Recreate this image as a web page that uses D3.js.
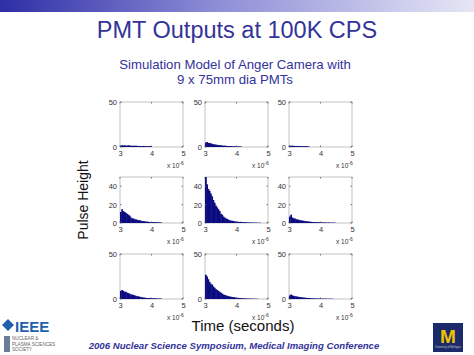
<!DOCTYPE html>
<html><head><meta charset="utf-8">
<script src="https://cdn.jsdelivr.net/npm/d3@7"></script>
<style>body{margin:0;background:#fff}svg{display:block}</style>
</head><body>
<svg id="c" width="474" height="355"></svg>
<script>
// ---- data ----
const binStart = 3.0;      // x 10^-6 s
const binWidth = 0.04;
const xTicks = [3, 4, 5];
const yTicksRow1 = [0, 50];
const yTicksRow2 = [0, 20, 40];
const yTicksRow3 = [0, 50];
const p11 = [1.5,2,1.5,2,1.5,1.5,2,1.5,1.5,1.2,1.5,1.2,1.5,1.2,1,1.2,1,1,1.2,1,0.8,1,0.8,1,0.8];
const p12 = [5,5.5,4.5,4.5,4,3.5,3,3,2.5,2.5,2,2,2,1.5,1.5,1.5,1.2,1.2,1,1,1,0.8,0.8,0.8,0.7,0.7,0.6,0.6,0.5];
const p13 = [1.5,1.2,1.5,1.2,1.2,1,1.2,1,1,1,1,0.8,1,0.8,0.8,0.6];
const p21 = [12,15,13,12,11,10,9,8,6,5,5,4,4,3.5,3,3,2.5,2,2,1.8,1.5,1.5,1.2,1,1,1,0.8,1,0.8,0.7,0.8,0.5,0.6];
const p22 = [50,42,37,35,32,29,25,22,19,17,15,13,10,9,7,6,5,4.5,3.5,3,2.5,2.5,2,1.8,1.5,1.5,1.2,1,1.3,0.8,1,0.7,0.8,0.6,0.5,0.7,0.4,0.5,0.4,0.3,0.4,0.3,0.2,0.3];
const p23 = [7,9,6,5,5,4,4,3.5,3,3,2.5,2.5,2,2,1.8,1.5,1.5,1.2,1,1,1,0.8,1,0.7,0.8,0.6,0.7,0.5,0.6,0.5,0.4,0.5,0.4,0.3,0.4,0.3,0.3];
const p31 = [9,10,9,8,8,7,6.5,6,5,5,4.5,4,3.5,3,3,2.5,2,2,1.5,1.5,1.2,1,1,1.2,0.8,0.8,1,0.6,0.8,0.5,0.6,0.5,0.4];
const p32 = [27,25,22,19,17,16,14,12.5,11,10,9,8,7,6,5,4.5,4,3.5,3,2.8,2.5,2.2,2,1.8,1.5,1.3,1.2,1,1,0.8,0.8,0.7,0.6,0.5,0.5,0.4,0.4,0.3,0.3,0.2,0.3,0.2];
const p33 = [4,5,4,3.5,3,3,2.5,2.5,2,2,1.8,1.5,1.5,1.2,1.2,1,1,0.8,0.8,0.7,0.6,0.6,0.5,0.5,0.5,0.4,0.5,0.4,0.3,0.4,0.3,0.3,0.3,0.2,0.3];
const panels = [[p11,p12,p13],[p21,p22,p23],[p31,p32,p33]];
const rowTicks = [yTicksRow1, yTicksRow2, yTicksRow3];

const svg = d3.select("#c");
const font = "'Liberation Sans', Arial, sans-serif";

// top gradient band
const defs = svg.append("defs");
const g = defs.append("linearGradient").attr("id","band").attr("x1","0").attr("x2","1");
g.append("stop").attr("offset","0").attr("stop-color","#2e2ea6");
g.append("stop").attr("offset","0.45").attr("stop-color","#8c8cd6");
g.append("stop").attr("offset","1").attr("stop-color","#e6e6f6");
svg.append("rect").attr("x",0).attr("y",0).attr("width",474).attr("height",12).attr("fill","url(#band)");

// titles
svg.append("text").attr("x",237).attr("y",38).attr("text-anchor","middle")
  .attr("font-family",font).attr("font-size",23.5).attr("fill","#333399").text("PMT Outputs at 100K CPS");
svg.append("text").attr("x",235).attr("y",69).attr("text-anchor","middle")
  .attr("font-family",font).attr("font-size",13.2).attr("fill","#333399").text("Simulation Model of Anger Camera with");
svg.append("text").attr("x",235).attr("y",84).attr("text-anchor","middle")
  .attr("font-family",font).attr("font-size",13.2).attr("fill","#333399").text("9 x 75mm dia PMTs");

// panels
const colX = [120, 205, 289];
const rowY = [[102,147],[177,223],[254,299]];
const pw = 63;
panels.forEach((row, ri) => {
  row.forEach((vals, ci) => {
    const x = d3.scaleLinear().domain([3,5]).range([colX[ci], colX[ci]+pw]);
    const y = d3.scaleLinear().domain([0,50]).range([rowY[ri][1], rowY[ri][0]]);
    const pg = svg.append("g");
    // box
    pg.append("rect").attr("x",x(3)).attr("y",y(50)).attr("width",x(5)-x(3)).attr("height",y(0)-y(50))
      .attr("fill","#fff").attr("stroke","#b4b4b4").attr("stroke-width",0.8);
    // bars
    const data = vals.map((v,i)=>({x0: binStart + i*binWidth, v}));
    pg.selectAll("rect.bar").data(data).enter().append("rect").attr("class","bar")
      .attr("x", d=>x(d.x0)).attr("width", d=>x(d.x0+binWidth)-x(d.x0)+0.5)
      .attr("y", d=>y(d.v)).attr("height", d=>y(0)-y(d.v)).attr("fill","#0a0a80");
    // axes
    const xa = d3.axisBottom(x).tickValues(xTicks).tickFormat(d3.format("d")).tickSize(0).tickPadding(4);
    const xg = pg.append("g").attr("transform",`translate(0,${y(0)})`).call(xa);
    const ya = d3.axisLeft(y).tickValues(rowTicks[ri]).tickFormat(d3.format("d")).tickSize(0).tickPadding(3);
    const yg = pg.append("g").attr("transform",`translate(${x(3)},0)`).call(ya);
    [xg,yg].forEach(a=>{
      a.select(".domain").remove();
      a.selectAll("text").attr("font-family",font).attr("font-size",7.5).attr("fill","#333");
    });
    // small tick marks
    xTicks.forEach(t=>{
      pg.append("line").attr("x1",x(t)).attr("x2",x(t)).attr("y1",y(0)).attr("y2",y(0)-1.5).attr("stroke","#555").attr("stroke-width",0.8);
      pg.append("line").attr("x1",x(t)).attr("x2",x(t)).attr("y1",y(50)).attr("y2",y(50)+1.5).attr("stroke","#555").attr("stroke-width",0.8);
    });
    rowTicks[ri].forEach(t=>{
      pg.append("line").attr("x1",x(3)).attr("x2",x(3)+1.5).attr("y1",y(t)).attr("y2",y(t)).attr("stroke","#555").attr("stroke-width",0.8);
      pg.append("line").attr("x1",x(5)).attr("x2",x(5)-1.5).attr("y1",y(t)).attr("y2",y(t)).attr("stroke","#555").attr("stroke-width",0.8);
    });
    // exponent label
    const ex = pg.append("text").attr("x",x(5)-16).attr("y",y(0)+21)
      .attr("font-family",font).attr("font-size",6.5).attr("fill","#333");
    ex.append("tspan").text("x 10");
    ex.append("tspan").attr("dy",-3).attr("font-size",5).text("-6");
  });
});

// axis titles
svg.append("text").attr("transform","translate(88,200) rotate(-90)").attr("text-anchor","middle")
  .attr("font-family",font).attr("font-size",14).attr("fill","#111").text("Pulse Height");
svg.append("text").attr("x",243).attr("y",331).attr("text-anchor","middle")
  .attr("font-family",font).attr("font-size",15).attr("fill","#111").text("Time (seconds)");

// footer
svg.append("text").attr("x",234).attr("y",349).attr("text-anchor","middle")
  .attr("font-family",font).attr("font-size",9.6).attr("font-weight","bold").attr("font-style","italic")
  .attr("fill","#333399").text("2006 Nuclear Science Symposium, Medical Imaging Conference");

// IEEE logo
svg.append("path").attr("d","M8,319 L14,325 L8,331 L2,325 Z").attr("fill","#1f5fae");
svg.append("text").attr("x",15).attr("y",331.5).attr("font-family",font).attr("font-size",15)
  .attr("font-weight","bold").attr("fill","#1f5fae").text("IEEE");
svg.append("rect").attr("x",4).attr("y",336).attr("width",6).attr("height",16).attr("fill","#6a7d96");
[["NUCLEAR &",340],["PLASMA SCIENCES",345.5],["SOCIETY",351]].forEach(([t,yy])=>{
  svg.append("text").attr("x",12).attr("y",yy).attr("font-family",font).attr("font-size",4.6)
    .attr("fill","#666").text(t);
});

// Michigan logo
svg.append("rect").attr("x",433).attr("y",323).attr("width",30).attr("height",29).attr("fill","#1b2a6b");
svg.append("text").attr("x",448).attr("y",343).attr("text-anchor","middle").attr("font-family",font)
  .attr("font-size",19).attr("font-weight","bold").attr("fill","#f2c200").text("M");
svg.append("text").attr("x",448).attr("y",348).attr("text-anchor","middle").attr("font-family",font)
  .attr("font-size",2.6).attr("fill","#ccc").text("University of Michigan");
</script>
</body></html>
